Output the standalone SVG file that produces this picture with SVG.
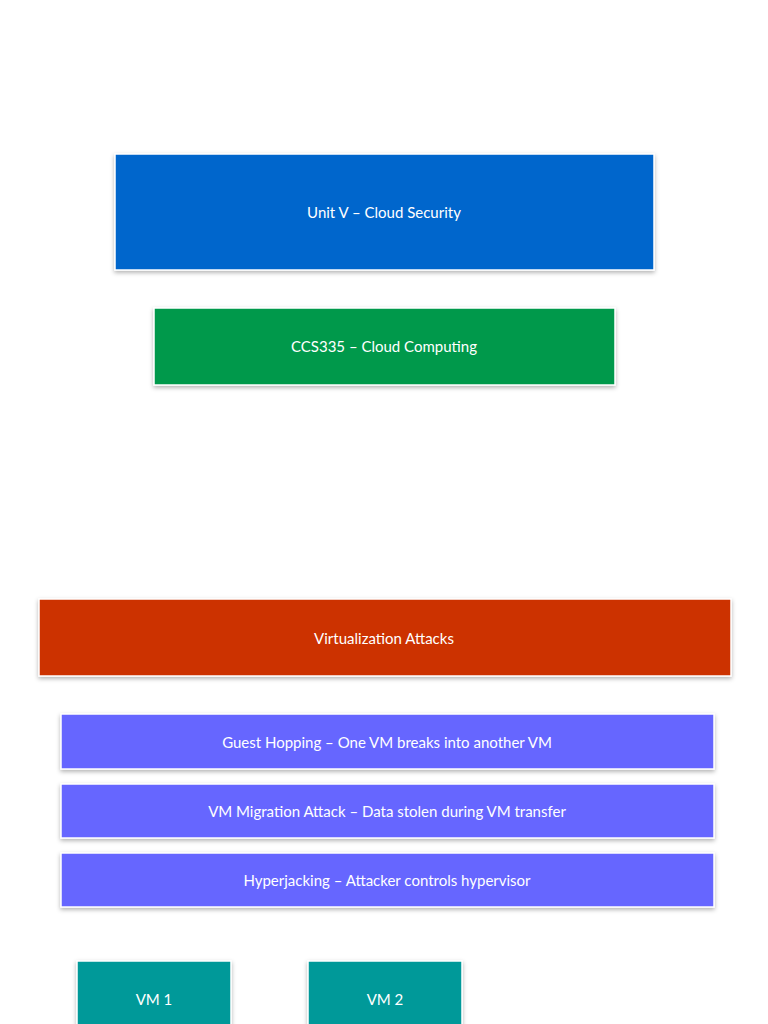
<svg xmlns="http://www.w3.org/2000/svg" width="768" height="1024" viewBox="0 0 768 1024">
<defs>
<filter id="sh" x="-5%" y="-10%" width="110%" height="130%"><feDropShadow dx="0" dy="2" stdDeviation="2" flood-color="#000" flood-opacity="0.3"/></filter>
<style>
.b{stroke:#fff;stroke-width:1.5;filter:url(#sh)}
.t{font-family:Lato,"Liberation Sans",sans-serif;font-size:15px;fill:#fff;text-anchor:middle;dominant-baseline:central}
</style>
</defs>
<rect width="768" height="1024" fill="#fff"/>
<g id="n1"><rect class="b" x="115" y="154" width="539" height="116" fill="#0066CC"/><text class="t" x="384" y="212">Unit V – Cloud Security</text></g>
<g id="n2"><rect class="b" x="154" y="308" width="461" height="77" fill="#00994C"/><text class="t" x="384" y="346">CCS335 – Cloud Computing</text></g>
<g id="n3"><rect class="b" x="39" y="599" width="692" height="77" fill="#CC3300"/><text class="t" x="384" y="638">Virtualization Attacks</text></g>
<g id="n4"><rect class="b" x="61" y="714" width="653" height="55" fill="#6666FF"/><text class="t" x="387" y="742">Guest Hopping – One VM breaks into another VM</text></g>
<g id="n5"><rect class="b" x="61" y="784" width="653" height="54" fill="#6666FF"/><text class="t" x="387" y="811">VM Migration Attack – Data stolen during VM transfer</text></g>
<g id="n6"><rect class="b" x="61" y="853" width="653" height="54" fill="#6666FF"/><text class="t" x="387" y="880">Hyperjacking – Attacker controls hypervisor</text></g>
<g id="n7"><rect class="b" x="77" y="961" width="154" height="77" fill="#009999"/><text class="t" x="154" y="999">VM 1</text></g>
<g id="n8"><rect class="b" x="308" y="961" width="154" height="77" fill="#009999"/><text class="t" x="385" y="999">VM 2</text></g>
<g id="connectors"/>
</svg>
